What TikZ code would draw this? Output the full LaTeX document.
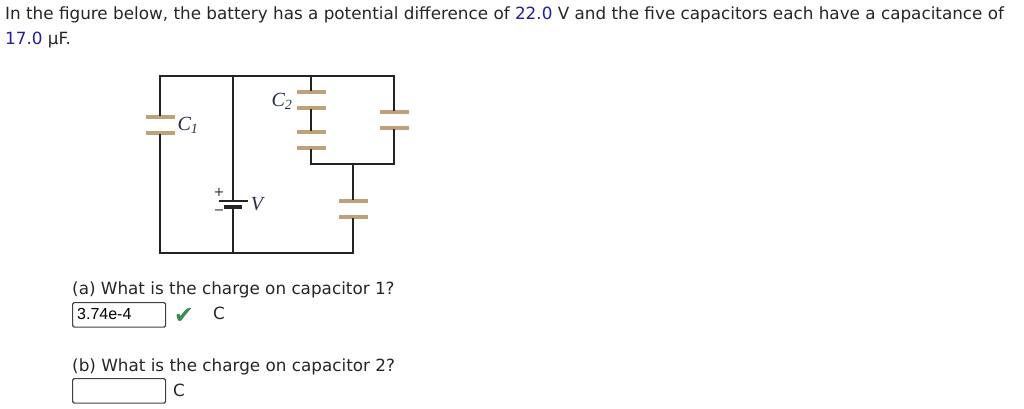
\documentclass[tikz,border=0pt]{standalone}
\usepackage{fontspec}
\setmainfont{DejaVu Sans}
\newfontfamily\labelfont{Liberation Serif}
\newfontfamily\fieldfont{Liberation Sans}
\usetikzlibrary{positioning}
\definecolor{plate tan}{RGB}{191,162,122}
\definecolor{wire dark}{RGB}{35,35,35}
\definecolor{value blue}{RGB}{32,32,160}
\definecolor{label ink}{RGB}{40,45,70}
\definecolor{check green}{RGB}{58,140,82}
\tikzset {
  % circuit parts
  wire/.style = {
    draw = wire dark,
    line width = 2.3pt,
    line cap = rect
  },
  plate/.style = {
    fill = plate tan,
    rectangle,
    minimum width = 29pt,
    minimum height = 3.6pt,
    inner sep = 0
  },
  % battery plates
  long plate/.style = {
    fill = wire dark,
    rectangle,
    minimum width = 29pt,
    minimum height = 2.5pt,
    inner sep = 0
  },
  short plate/.style = {
    long plate,
    minimum width = 18pt,
    minimum height = 4pt
  },
  symbol/.style = {
    text = label ink,
    font = \labelfont\fontsize{20pt}{20pt}\selectfont\itshape,
    inner sep = 0
  },
  sign/.style = {
    text = label ink,
    font = \fontsize{13pt}{13pt}\selectfont,
    inner sep = 0
  },
  % page text
  line text/.style = {
    anchor = base west,
    inner sep = 0,
    text = black!85,
    font = \fontsize{16.8pt}{17pt}\selectfont
  },
  % answer field
  answer/.style = {
    draw = black!75,
    rounded corners = 1.5pt,
    line width = 1.2pt,
    anchor = north west,
    minimum width = 93pt,
    minimum height = 24.5pt,
    inner sep = 0
  }
}

\begin{document}
\begin{tikzpicture}[x=1pt, y=-1pt]
    \useasboundingbox (0, 0) rectangle (1024, 408);

    \node[line text] at (5, 19) (line1) {In the figure below, the battery has a potential difference of \textcolor{value blue}{22.0} V and the five capacitors each have a capacitance of};
    \node[line text] at (5, 44) (line2) {\textcolor{value blue}{17.0} µF.};

    \coordinate (top-left) at (160, 76);
    \coordinate (top-batt) at (233, 76);
    \coordinate (top-mid) at (311, 76);
    \coordinate (top-right) at (394, 76);
    \coordinate (low-mid) at (311, 164);
    \coordinate (low-join) at (353, 164);
    \coordinate (low-right) at (394, 164);
    \coordinate (bot-left) at (160, 253);
    \coordinate (bot-batt) at (233, 253);
    \coordinate (bot-right) at (353, 253);

    \node[plate] at (160, 117) (c1a) {};
    \node[plate] at (160, 133) (c1b) {};
    \node[plate] at (311, 92) (c2a) {};
    \node[plate] at (311, 108) (c2b) {};
    \node[plate] at (311, 132) (c3a) {};
    \node[plate] at (311, 148) (c3b) {};
    \node[plate] at (394, 112) (c4a) {};
    \node[plate] at (394, 128) (c4b) {};
    \node[plate] at (353, 201) (c5a) {};
    \node[plate] at (353, 217) (c5b) {};
    \node[long plate] at (233, 201) (batt-pos) {};
    \node[short plate] at (233, 207) (batt-neg) {};

    \node[symbol] at (188, 125) (c1-label) {C\textsubscript{1}};
    \node[symbol] at (282, 101) (c2-label) {C\textsubscript{2}};
    \node[symbol] at (257, 204) (v-label) {V};
    \node[sign] at (219, 192) (plus) {+};
    \node[sign] at (219, 212) (minus) {−};

    \draw[wire] (c1a) -- (top-left) -- (top-right) -- (c4a);
    \draw[wire] (c1b) -- (bot-left) -- (bot-right) -- (c5b);
    \draw[wire] (top-batt) -- (batt-pos);
    \draw[wire] (batt-neg) -- (bot-batt);
    \draw[wire] (top-mid) -- (c2a);
    \draw[wire] (c2b) -- (c3a);
    \draw[wire] (c3b) -- (low-mid) -- (low-right) -- (c4b);
    \draw[wire] (low-join) -- (c5a);

    \node[line text] at (72, 294) (part-a) {(a) What is the charge on capacitor 1?};
    \node[answer] at (72, 302) (field-a) {};
    \node[anchor = base west, inner sep = 0, font = \fieldfont\fontsize{16pt}{16pt}\selectfont] at (77, 319) (value-a) {3.74e-4};
    \node[text = check green, inner sep = 0, font = \fontsize{24pt}{24pt}\selectfont] at (184, 316) (check-a) {✔};
    \node[line text] at (213, 319) (unit-a) {C};

    \node[line text] at (72, 371) (part-b) {(b) What is the charge on capacitor 2?};
    \node[answer] at (72, 378) (field-b) {};
    \node[line text] at (173, 396) (unit-b) {C};
\end{tikzpicture}
\end{document}
